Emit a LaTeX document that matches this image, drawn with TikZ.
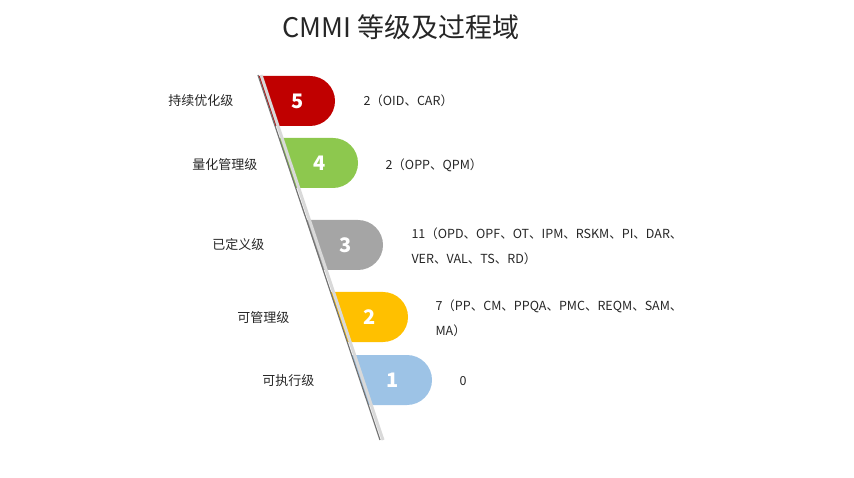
\documentclass[tikz,border=0pt]{standalone}
\usepackage{fontspec}
\setmainfont{Noto Sans CJK SC}
\begin{document}
\begin{tikzpicture}[x=1pt,y=1pt,
  lvltxt/.style={font=\fontsize{13}{15}\selectfont,text=black!85},
  numtxt/.style={font=\fontsize{20}{22}\selectfont\bfseries,text=white},
  desctxt/.style={font=\fontsize{12.5}{25}\selectfont,text=black!85,align=left,anchor=west}]
\useasboundingbox (0,0) rectangle (854,-478);
\definecolor{cA}{HTML}{C00000}
\definecolor{cB}{HTML}{8DC84E}
\definecolor{cC}{HTML}{A5A5A5}
\definecolor{cD}{HTML}{FFC000}
\definecolor{cE}{HTML}{9DC3E6}
\node[font=\fontsize{27}{29}\selectfont,text=black!85] (title) at (401,-27) {CMMI 等级及过程域};
\foreach \t/\r/\c/\n/\nm in {76/335/cA/5/s5,138/358/cB/4/s4,220/383/cC/3/s3,292/408/cD/2/s2,355/432/cE/1/s1}{
  \pgfmathsetmacro{\xt}{258+0.334*(\t-75)}
  \pgfmathsetmacro{\xb}{258+0.334*(\t+50-75)}
  \pgfmathsetmacro{\xc}{\r-25}
  \fill[\c] (\xt,-\t) -- (\xc,-\t) arc[start angle=90,end angle=-90,radius=25pt] -- (\xb,-\t-50) -- cycle;
  \pgfmathsetmacro{\nx}{(\xt+\xb)/2+(\r-(\xt+\xb)/2)*0.45}
  \node[numtxt] (\nm) at (\nx,-\t-25) {\n};
}
\draw[black!15,line width=3pt] (261,-75) -- (383,-440);
\draw[black!55,line width=1.2pt] (258,-75) -- (380,-440);
\node[lvltxt,anchor=east] (l5) at (237,-101) {持续优化级};
\node[lvltxt,anchor=east] (l4) at (261,-165) {量化管理级};
\node[lvltxt,anchor=east] (l3) at (268,-245) {已定义级};
\node[lvltxt,anchor=east] (l2) at (293,-318) {可管理级};
\node[lvltxt,anchor=east] (l1) at (318,-381) {可执行级};
\node[desctxt] (d5) at (360,-101) {2（OID、CAR）};
\node[desctxt] (d4) at (382,-165) {2（OPP、QPM）};
\node[desctxt] (d3) at (408,-246) {11（OPD、OPF、OT、IPM、RSKM、PI、DAR、\\VER、VAL、TS、RD）};
\node[desctxt] (d2) at (432,-318) {7（PP、CM、PPQA、PMC、REQM、SAM、\\MA）};
\node[desctxt] (d1) at (456,-381) {0};
\end{tikzpicture}
\end{document}
